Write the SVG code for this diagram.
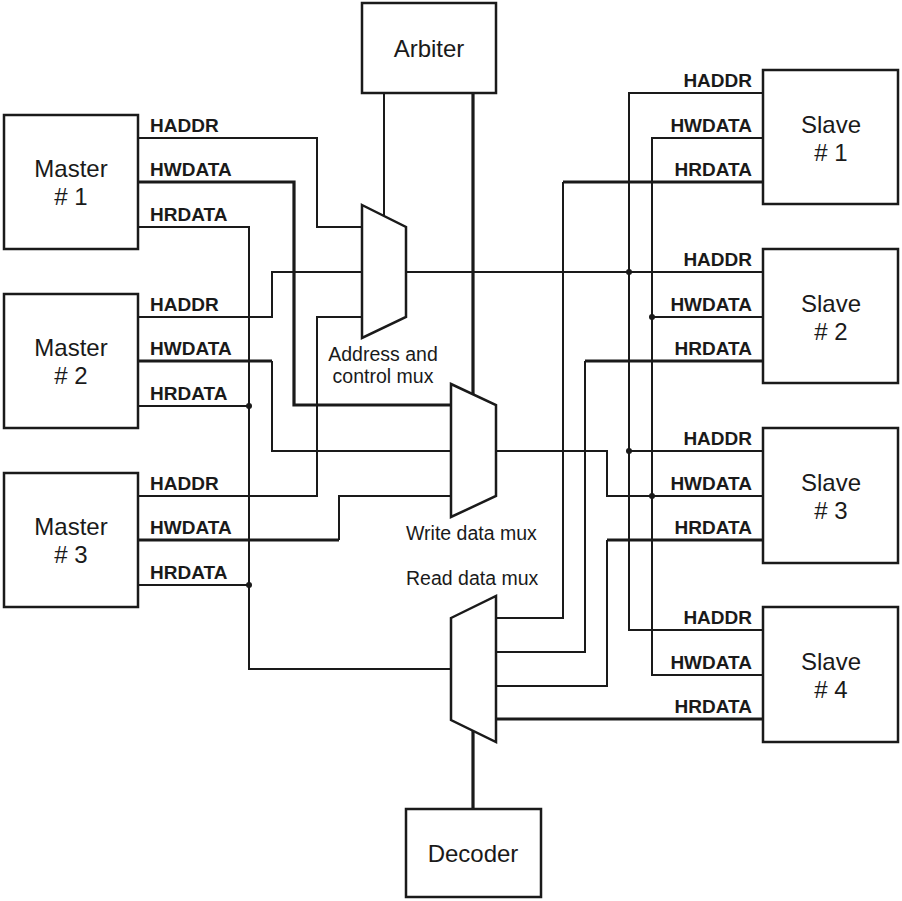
<svg xmlns="http://www.w3.org/2000/svg" width="902" height="901" viewBox="0 0 902 901">
<style>
.box{fill:#fff;stroke:#1a1a1a;stroke-width:2.5}
.mux{fill:#fff;stroke:#1a1a1a;stroke-width:2.5;stroke-linejoin:miter}
.w{fill:none;stroke:#1a1a1a;stroke-width:2}
.t{fill:none;stroke:#1a1a1a;stroke-width:3.2}
.dot{fill:#1a1a1a}
.nl{font-family:"Liberation Sans",Arial,sans-serif;font-size:24px;fill:#1a1a1a;text-anchor:middle}
.sl{font-family:"Liberation Sans",Arial,sans-serif;font-size:19px;font-weight:bold;fill:#1a1a1a}
.sr{font-family:"Liberation Sans",Arial,sans-serif;font-size:19px;font-weight:bold;fill:#1a1a1a;text-anchor:end}
.ml{font-family:"Liberation Sans",Arial,sans-serif;font-size:19.5px;fill:#1a1a1a}
</style>
<rect width="902" height="901" fill="#fff"/>
<g id="connectors">
<path class="w" d="M138,138 H317 V227 H362"/>
<path class="w" d="M138,317 H272 V272 H362"/>
<path class="w" d="M138,496 H317 V317 H362"/>
<path class="w" d="M384,93 V216"/>
<path class="w" d="M406,272 H763"/>
<path class="w" d="M763,93 H629 V630 H763"/>
<path class="w" d="M629,451 H763"/>
<path class="w" d="M763,138 H652 V675 H763"/>
<path class="w" d="M652,317 H763"/>
<path class="t" d="M138,182 H294 V405 H451"/>
<path class="t" d="M138,361 H272"/>
<path class="w" d="M272,361 V451 H451"/>
<path class="t" d="M138,540 H339"/>
<path class="w" d="M339,540 V496 H451"/>
<path class="w" d="M496,451 H607 V496 H763"/>
<path class="w" d="M138,227 H249 V669 H451"/>
<path class="w" d="M138,406 H249"/>
<path class="w" d="M138,585 H249"/>
<path class="w" d="M496,618 H563 V182"/>
<path class="t" d="M563,182 H763"/>
<path class="w" d="M496,652 H585 V361"/>
<path class="t" d="M585,361 H763"/>
<path class="w" d="M496,686 H607 V540"/>
<path class="t" d="M607,540 H763"/>
<path class="t" d="M496,719 H763"/>
<path class="t" d="M473,93 V394"/>
<path class="t" d="M473,809 V731"/>
<circle class="dot" cx="249" cy="406" r="3"/>
<circle class="dot" cx="249" cy="585" r="3"/>
<circle class="dot" cx="629" cy="272" r="3"/>
<circle class="dot" cx="629" cy="451" r="3"/>
<circle class="dot" cx="652" cy="317" r="3"/>
<circle class="dot" cx="652" cy="496" r="3"/>
</g>
<g id="signal-labels">
<text class="sl" x="150" y="131.5">HADDR</text>
<text class="sl" x="150" y="175.5">HWDATA</text>
<text class="sl" x="150" y="220.5">HRDATA</text>
<text class="sl" x="150" y="310.5">HADDR</text>
<text class="sl" x="150" y="354.5">HWDATA</text>
<text class="sl" x="150" y="399.5">HRDATA</text>
<text class="sl" x="150" y="489.5">HADDR</text>
<text class="sl" x="150" y="533.5">HWDATA</text>
<text class="sl" x="150" y="578.5">HRDATA</text>
<text class="sr" x="752" y="86.5">HADDR</text>
<text class="sr" x="752" y="131.5">HWDATA</text>
<text class="sr" x="752" y="175.5">HRDATA</text>
<text class="sr" x="752" y="265.5">HADDR</text>
<text class="sr" x="752" y="310.5">HWDATA</text>
<text class="sr" x="752" y="354.5">HRDATA</text>
<text class="sr" x="752" y="444.5">HADDR</text>
<text class="sr" x="752" y="489.5">HWDATA</text>
<text class="sr" x="752" y="533.5">HRDATA</text>
<text class="sr" x="752" y="623.5">HADDR</text>
<text class="sr" x="752" y="668.5">HWDATA</text>
<text class="sr" x="752" y="712.5">HRDATA</text>
</g>
<g id="master1"><rect class="box" x="4" y="115" width="134" height="134"/><text class="nl" x="71" y="177">Master</text><text class="nl" x="71" y="204.5"># 1</text></g>
<g id="master2"><rect class="box" x="4" y="294" width="134" height="134"/><text class="nl" x="71" y="356">Master</text><text class="nl" x="71" y="383.5"># 2</text></g>
<g id="master3"><rect class="box" x="4" y="473" width="134" height="134"/><text class="nl" x="71" y="535">Master</text><text class="nl" x="71" y="562.5"># 3</text></g>
<g id="slave1"><rect class="box" x="763" y="70" width="135" height="134"/><text class="nl" x="831" y="133">Slave</text><text class="nl" x="831" y="160.5"># 1</text></g>
<g id="slave2"><rect class="box" x="763" y="249" width="135" height="134"/><text class="nl" x="831" y="312">Slave</text><text class="nl" x="831" y="339.5"># 2</text></g>
<g id="slave3"><rect class="box" x="763" y="428" width="135" height="135"/><text class="nl" x="831" y="491">Slave</text><text class="nl" x="831" y="518.5"># 3</text></g>
<g id="slave4"><rect class="box" x="763" y="607" width="135" height="135"/><text class="nl" x="831" y="670">Slave</text><text class="nl" x="831" y="697.5"># 4</text></g>
<g id="arbiter"><rect class="box" x="362" y="3" width="134" height="90"/><text class="nl" x="429" y="57">Arbiter</text></g>
<g id="decoder"><rect class="box" x="406" y="809" width="135" height="88"/><text class="nl" x="473" y="862">Decoder</text></g>
<g id="address-mux"><polygon class="mux" points="362,205 406,227 406,317 362,338"/><text class="ml" x="383" y="361" text-anchor="middle">Address and</text><text class="ml" x="383" y="383" text-anchor="middle">control mux</text></g>
<g id="write-mux"><polygon class="mux" points="451,384 496,405 496,496 451,517"/><text class="ml" x="406" y="540">Write data mux</text></g>
<g id="read-mux"><polygon class="mux" points="451,618 496,596 496,742 451,720"/><text class="ml" x="406" y="585">Read data mux</text></g>
</svg>
